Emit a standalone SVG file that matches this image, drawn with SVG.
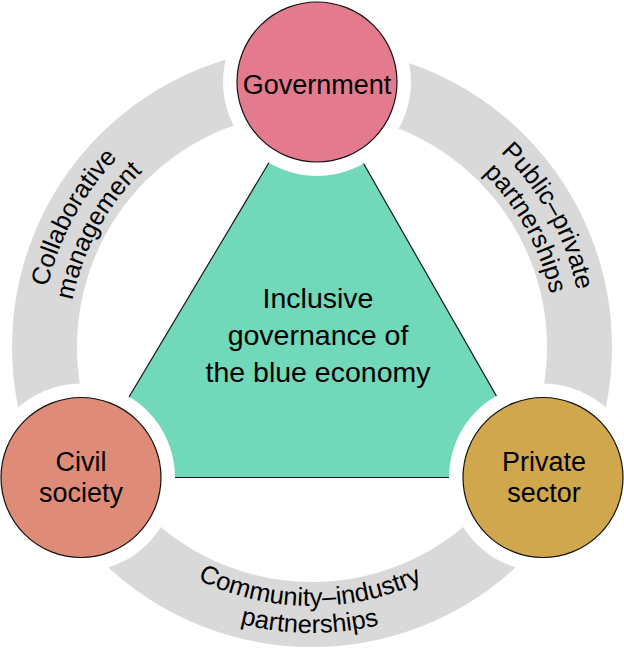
<svg xmlns="http://www.w3.org/2000/svg" width="624" height="648" viewBox="0 0 624 648">
<style>
.lbl{font-family:"Liberation Sans",Arial,sans-serif;fill:#000;}
.node{font-size:27px;text-anchor:middle;}
.ring{font-size:25.5px;}
.gap{fill:#fff;}
</style>
<defs>
<path id="pL1" d="M 80.9 488.6 A 271 271 0 0 1 304.9 76.1"/>
<path id="pL2" d="M 104.0 474.5 A 244 244 0 0 1 305.6 103.1"/>
<path id="pR1" d="M 316.7 76.0 A 271 271 0 0 1 544.3 486.6"/>
<path id="pR2" d="M 316.3 103.0 A 244 244 0 0 1 521.2 472.7"/>
<path id="pB1" d="M 86.6 474.5 A 259 259 0 0 0 535.2 478.4"/>
<path id="pB2" d="M 63.1 487.8 A 286 286 0 0 0 558.4 492.1"/>
</defs>
<rect width="624" height="648" fill="#fff"/>
<g id="connectors">
<circle cx="312" cy="347" r="267.5" fill="none" stroke="#d9d9d9" stroke-width="65"/>
<text class="lbl ring" text-anchor="middle"><textPath href="#pL1" startOffset="50%">Collaborative</textPath></text>
<text class="lbl ring" text-anchor="middle"><textPath href="#pL2" startOffset="50%">management</textPath></text>
<text class="lbl ring" text-anchor="middle"><textPath href="#pR1" startOffset="50%">Public–private</textPath></text>
<text class="lbl ring" text-anchor="middle"><textPath href="#pR2" startOffset="50%">partnerships</textPath></text>
<text class="lbl ring" text-anchor="middle"><textPath href="#pB1" startOffset="50%">Community–industry</textPath></text>
<text class="lbl ring" text-anchor="middle"><textPath href="#pB2" startOffset="50%">partnerships</textPath></text>
</g>
<g id="center">
<polygon points="317,82 81,477.5 543,477.5" fill="#71d8b9" stroke="#1a1a1a" stroke-width="1.2"/>
<circle class="gap" cx="317" cy="82" r="94"/>
<circle class="gap" cx="81" cy="477.5" r="94"/>
<circle class="gap" cx="543" cy="477.5" r="94"/>
<text class="lbl" font-size="28.5" text-anchor="middle"><tspan x="318" y="308">Inclusive</tspan><tspan x="318" y="345">governance of</tspan><tspan x="318" y="382">the blue economy</tspan></text>
</g>
<g id="government">
<circle cx="317" cy="82" r="80" fill="#e47a8e" stroke="#111" stroke-width="1.2"/>
<text class="lbl node" x="317" y="94">Government</text>
</g>
<g id="civil-society">
<circle cx="81" cy="477.5" r="80" fill="#de8b78" stroke="#111" stroke-width="1.2"/>
<text class="lbl node"><tspan x="81" y="471">Civil</tspan><tspan x="81" y="502">society</tspan></text>
</g>
<g id="private-sector">
<circle cx="543" cy="477.5" r="80" fill="#d0a74c" stroke="#111" stroke-width="1.2"/>
<text class="lbl node"><tspan x="544" y="471">Private</tspan><tspan x="544" y="502">sector</tspan></text>
</g>
</svg>
